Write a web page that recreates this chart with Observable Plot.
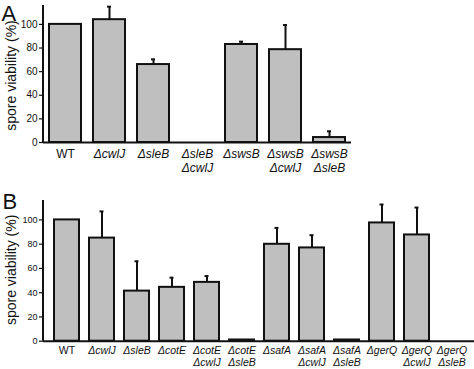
<!DOCTYPE html>
<html>
<head>
<meta charset="utf-8">
<script src="https://cdn.jsdelivr.net/npm/d3@7"></script>
<script src="https://cdn.jsdelivr.net/npm/@observablehq/plot@0.6"></script>
<style>
  html, body { margin: 0; padding: 0; background: #fff; }
  #root { width: 474px; height: 369px; position: relative; overflow: hidden; }
  svg { display: block; overflow: visible; }
</style>
</head>
<body>
<div id="root"></div>
<script>
// Panel A
const catsA = ["WT", "ΔcwlJ", "ΔsleB", "ΔsleB\nΔcwlJ", "ΔswsB", "ΔswsB\nΔcwlJ", "ΔswsB\nΔsleB"];
const valsA = [100, 104, 66, 0, 83, 78.6, 4.2];
const errA  = [null, 115, 70.4, null, 85.4, 99.5, 9.5];

// Panel B
const catsB = ["WT", "ΔcwlJ", "ΔsleB", "ΔcotE", "ΔcotE\nΔcwlJ", "ΔcotE\nΔsleB", "ΔsafA", "ΔsafA\nΔcwlJ", "ΔsafA\nΔsleB", "ΔgerQ", "ΔgerQ\nΔcwlJ", "ΔgerQ\nΔsleB"];
const valsB = [100, 85, 41.3, 44.4, 48.5, 1, 79.9, 76.9, 1, 97.5, 87.6, 0];
const errB  = [null, 107, 65.9, 52.4, 53.7, null, 93.4, 87.4, null, 112.7, 110.2, null];

const yTicks = [0, 20, 40, 60, 80, 100];
const yLabel = "spore viability (%)";

const FONT = "'Liberation Sans', Arial, Helvetica, sans-serif";

function yAxisLine(index, scales, values, dimensions) {
  const {marginLeft, marginTop, height, marginBottom} = dimensions;
  return d3.create("svg:line")
    .attr("x1", marginLeft).attr("x2", marginLeft)
    .attr("y1", marginTop).attr("y2", height - marginBottom)
    .attr("stroke", "#111").attr("stroke-width", 2)
    .node();
}

function panel({cats, vals, errs, letter, width, height, marginTop, marginBottom, marginRight,
                pIn, pOut, xFont, yFont, lineHeight, tickPad, capInset, letterDx, letterDy, letterSize, labelDy}) {
  const data = cats.map((c, i) => ({cat: c, v: vals[i], e: errs[i]}));
  const withErr = data.filter(d => d.e != null);
  const italic = cats.filter(c => c !== "WT");
  return Plot.plot({
    width, height,
    marginLeft: 43, marginRight, marginTop, marginBottom,
    style: {fontFamily: FONT, background: "#fff", color: "#111"},
    x: {domain: cats, paddingInner: pIn, paddingOuter: pOut, axis: null},
    y: {domain: [0, 116], axis: null},
    marks: [
      Plot.barY(data, {x: "cat", y: "v", fill: "#bfbfbf", stroke: "#111", strokeWidth: 2}),
      Plot.ruleX(withErr, {x: "cat", y1: "v", y2: "e", stroke: "#111", strokeWidth: 2}),
      Plot.tickY(withErr, {x: "cat", y: "e", stroke: "#111", strokeWidth: 2, insetLeft: capInset, insetRight: capInset}),
      Plot.ruleY([0], {stroke: "#111", strokeWidth: 2}),
      yAxisLine,
      Plot.axisY(yTicks, {tickSize: 4, tickPadding: 2, fontSize: yFont, stroke: "#111", strokeWidth: 1.2, label: null}),
      Plot.axisX(["WT"], {tickSize: 0, tickPadding: tickPad, fontSize: xFont, lineHeight, label: null}),
      Plot.axisX(italic, {tickSize: 0, tickPadding: tickPad, fontSize: xFont, fontStyle: "italic", lineHeight, label: null}),
      Plot.text([yLabel], {frameAnchor: "left", text: d => d, rotate: -90, dx: -32, dy: labelDy,
                           fontSize: 14, textAnchor: "middle", lineAnchor: "middle", fill: "#111"}),
      Plot.text([letter], {frameAnchor: "top-left", text: d => d, dx: letterDx, dy: letterDy,
                           fontSize: letterSize, textAnchor: "start", lineAnchor: "bottom", fill: "#111"})
    ]
  });
}

const root = document.getElementById("root");
root.append(panel({
  cats: catsA, vals: valsA, errs: errA, letter: "A",
  width: 474, height: 180, marginTop: 5, marginBottom: 38, marginRight: 123,
  pIn: 0.28, pOut: 0.11, xFont: 12, yFont: 10, lineHeight: 1.15, tickPad: 6, capInset: 14,
  letterDx: -42, letterDy: 15, letterSize: 22, labelDy: 1.5
}));
root.append(panel({
  cats: catsB, vals: valsB, errs: errB, letter: "B",
  width: 474, height: 189, marginTop: 20, marginBottom: 28.3, marginRight: 0,
  pIn: 0.3, pOut: 0.14, xFont: 10.5, yFont: 9, lineHeight: 1.1, tickPad: 5, capInset: 10.5,
  letterDx: -41, letterDy: 8, letterSize: 22, labelDy: -1
}));
</script>
</body>
</html>
